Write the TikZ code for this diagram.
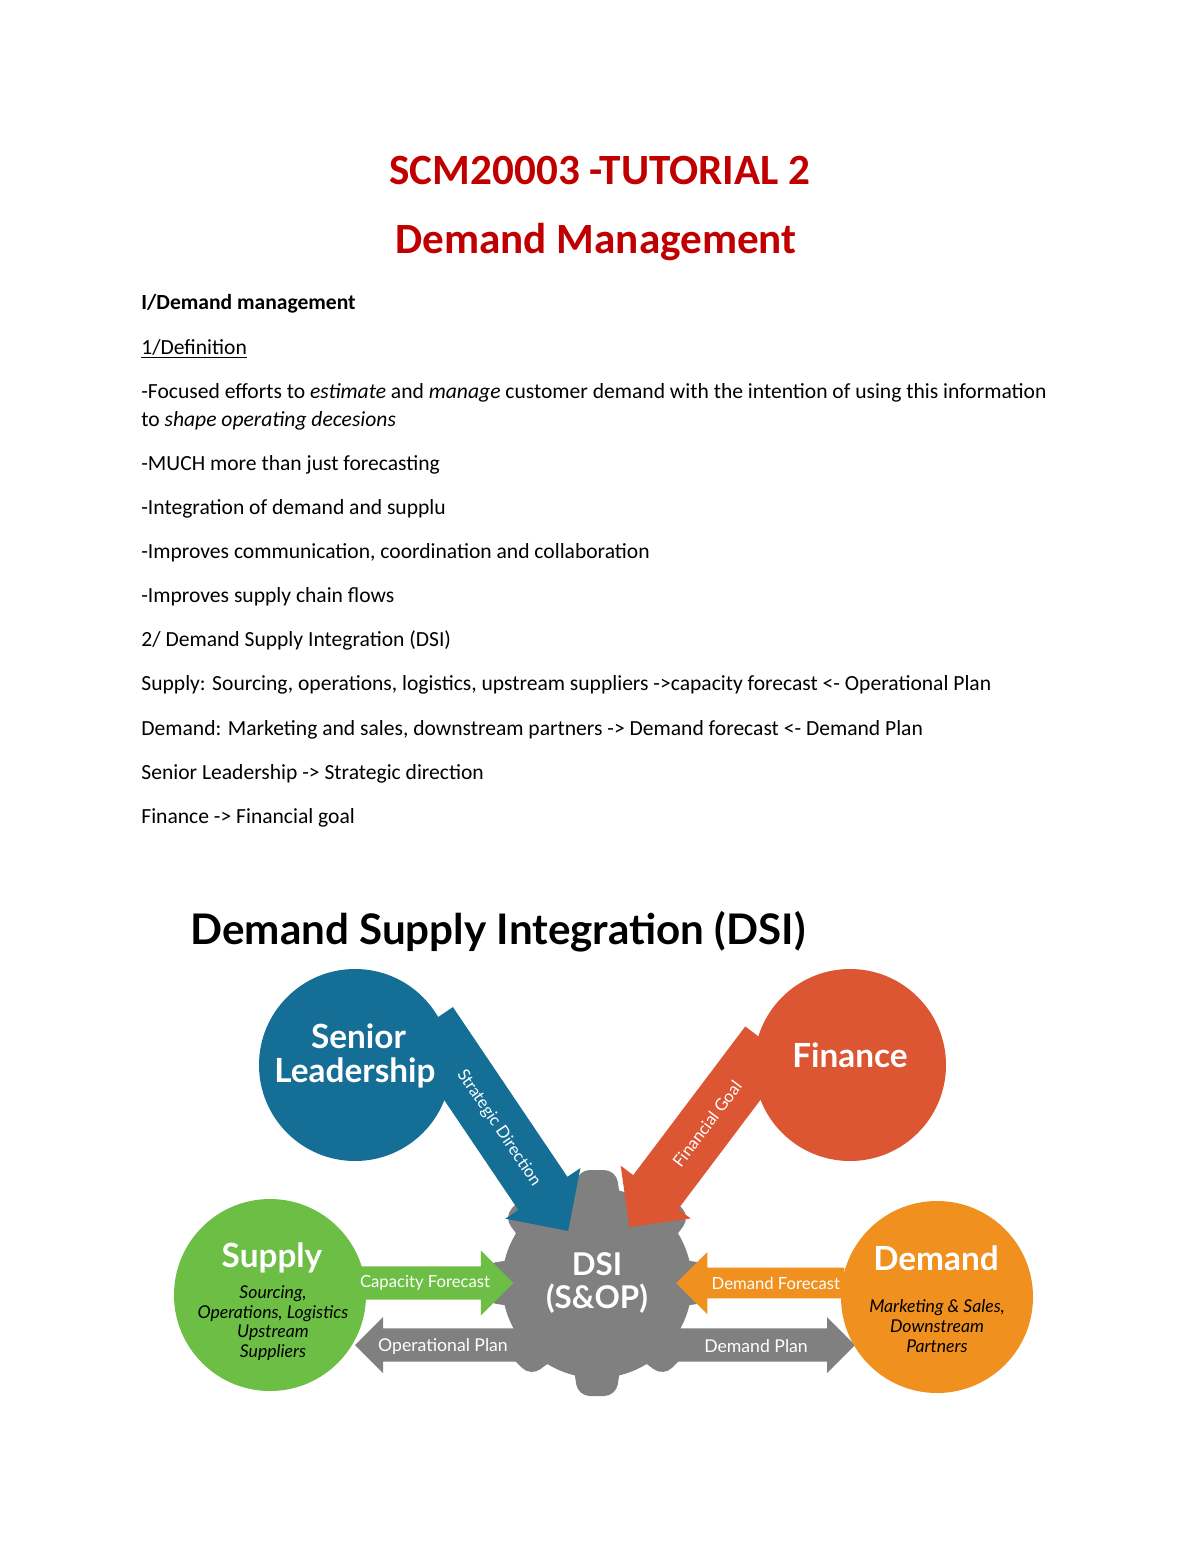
\documentclass[tikz,border=0pt]{standalone}
\usepackage{fontspec}
\setmainfont{Carlito}
\newfontfamily\lato{Lato}
\usetikzlibrary{shapes.arrows}
\definecolor{ttl}{HTML}{C00000}
\definecolor{cblue}{HTML}{156E96}
\definecolor{cred}{HTML}{DC5633}
\definecolor{cgreen}{HTML}{6DBE45}
\definecolor{corange}{HTML}{F0901E}
\definecolor{cgray}{HTML}{808080}
\begin{document}
\begin{tikzpicture}[x=0.51pt,y=-0.51pt,
  line/.style={anchor=base west,font=\fontsize{11}{13}\selectfont,inner sep=0},
  circ/.style={circle,minimum size=192*0.51pt,inner sep=0},
  big/.style={text=white,font=\lato\bfseries\fontsize{17}{17}\selectfont,align=center,inner sep=0},
  sub/.style={text=black,font=\lato\itshape\fontsize{9}{10}\selectfont,align=center,inner sep=0},
  arr/.style={single arrow,single arrow head extend=8pt,single arrow head indent=0pt,inner xsep=2pt,inner ysep=11pt,text=white,font=\lato\fontsize{8.5}{9}\selectfont},
  harr/.style={single arrow,single arrow head extend=8pt,single arrow head indent=0pt,inner xsep=2pt,inner ysep=4.5pt,text=white,font=\lato\fontsize{8.5}{9}\selectfont}]
\useasboundingbox (0,0) rectangle (1200,1553);
\fill[white] (0,0) rectangle (1200,1553);
% document text
\node[text=ttl,font=\bfseries\fontsize{22}{24}\selectfont] (t1) at (600,171) {SCM20003 -TUTORIAL 2};
\node[text=ttl,font=\bfseries\fontsize{22}{24}\selectfont] (t2) at (596,242) {Demand Management};
\node[line,font=\bfseries\fontsize{11}{13}\selectfont] (h1) at (141,309) {I/Demand management};
\node[line] (l0) at (141,354) {\underline{1/Definition}};
\node[line] (l1) at (141,398) {-Focused efforts to \textit{estimate} and \textit{manage} customer demand with the intention of using this information};
\node[line] (l2) at (141,426) {to \textit{shape operating decesions}};
\node[line] (l3) at (141,470) {-MUCH more than just forecasting};
\node[line] (l4) at (141,514) {-Integration of demand and supplu};
\node[line] (l5) at (141,558) {-Improves communication, coordination and collaboration};
\node[line] (l6) at (141,602) {-Improves supply chain flows};
\node[line] (l7) at (141,646) {2/ Demand Supply Integration (DSI)};
\node[line] (l8) at (141,690) {Supply: Sourcing, operations, logistics, upstream suppliers ->capacity forecast <- Operational Plan};
\node[line] (l9) at (141,735) {Demand: Marketing and sales, downstream partners -> Demand forecast <- Demand Plan};
\node[line] (l10) at (141,779) {Senior Leadership -> Strategic direction};
\node[line] (l11) at (141,823) {Finance -> Financial goal};
% diagram title
\node[anchor=west,font=\lato\bfseries\fontsize{21.5}{24}\selectfont,inner sep=0] (dt) at (190,932) {Demand Supply Integration (DSI)};
% gray double arrow
\node[double arrow,fill=cgray,minimum height=500*0.51pt,minimum width=56*0.51pt,inner ysep=7pt,double arrow head extend=5pt,double arrow head indent=0pt] (ga) at (605,1345) {};
% gear
\fill[cgray] (597,1283) circle[radius=95];
\foreach \a in {0,45,...,315}{
  \fill[cgray,rounded corners=6pt,rotate around={\a:(597,1283)}] (597-24,1283-80) -- (597-19,1283-113) -- (597+19,1283-113) -- (597+24,1283-80) -- cycle;
}
\node[text=white,font=\lato\bfseries\fontsize{16}{17}\selectfont,align=center] (dsi) at (597,1283) {DSI\\(S\&OP)};
\node[text=white,font=\lato\fontsize{9}{10}\selectfont] (op) at (443,1346) {Operational Plan};
\node[text=white,font=\lato\fontsize{9}{10}\selectfont] (dp) at (756,1346) {Demand Plan};
% circles
\node[circ,fill=cblue] (sl) at (355,1065) {};
\node[circ,fill=cred] (fi) at (850,1065) {};
\node[circ,fill=cgreen] (su) at (270,1295) {};
\node[circ,fill=corange] (de) at (937,1297) {};
% diagonal arrows
\node[arr,fill=cblue,rotate=-56,minimum height=250*0.51pt] (sa) at (490,1115) {\hspace{16pt}Strategic Direction};
\node[arr,fill=cred,rotate=53,shape border rotate=180,minimum height=230*0.51pt] (fa) at (707,1124) {Financial Goal\hspace{16pt}};
% horizontal arrows
\node[harr,fill=cgreen,minimum height=160*0.51pt] (ca) at (425,1283) {Capacity Forecast\hspace{6pt}};
\node[harr,fill=corange,shape border rotate=180,minimum height=165*0.51pt] (da) at (768,1283) {\hspace{8pt}Demand Forecast};
% circle texts
\node[big,align=left] at (355,1056) {\hspace{1.1em}Senior\\Leadership};
\node[big] at (850,1055) {Finance};
\node[big] at (272,1258) {Supply};
\node[sub] at (273,1323) {Sourcing,\\Operations, Logistics\\Upstream\\Suppliers};
\node[big] at (936,1258) {Demand};
\node[sub] at (937,1326) {Marketing \& Sales,\\Downstream\\Partners};
\end{tikzpicture}
\end{document}
